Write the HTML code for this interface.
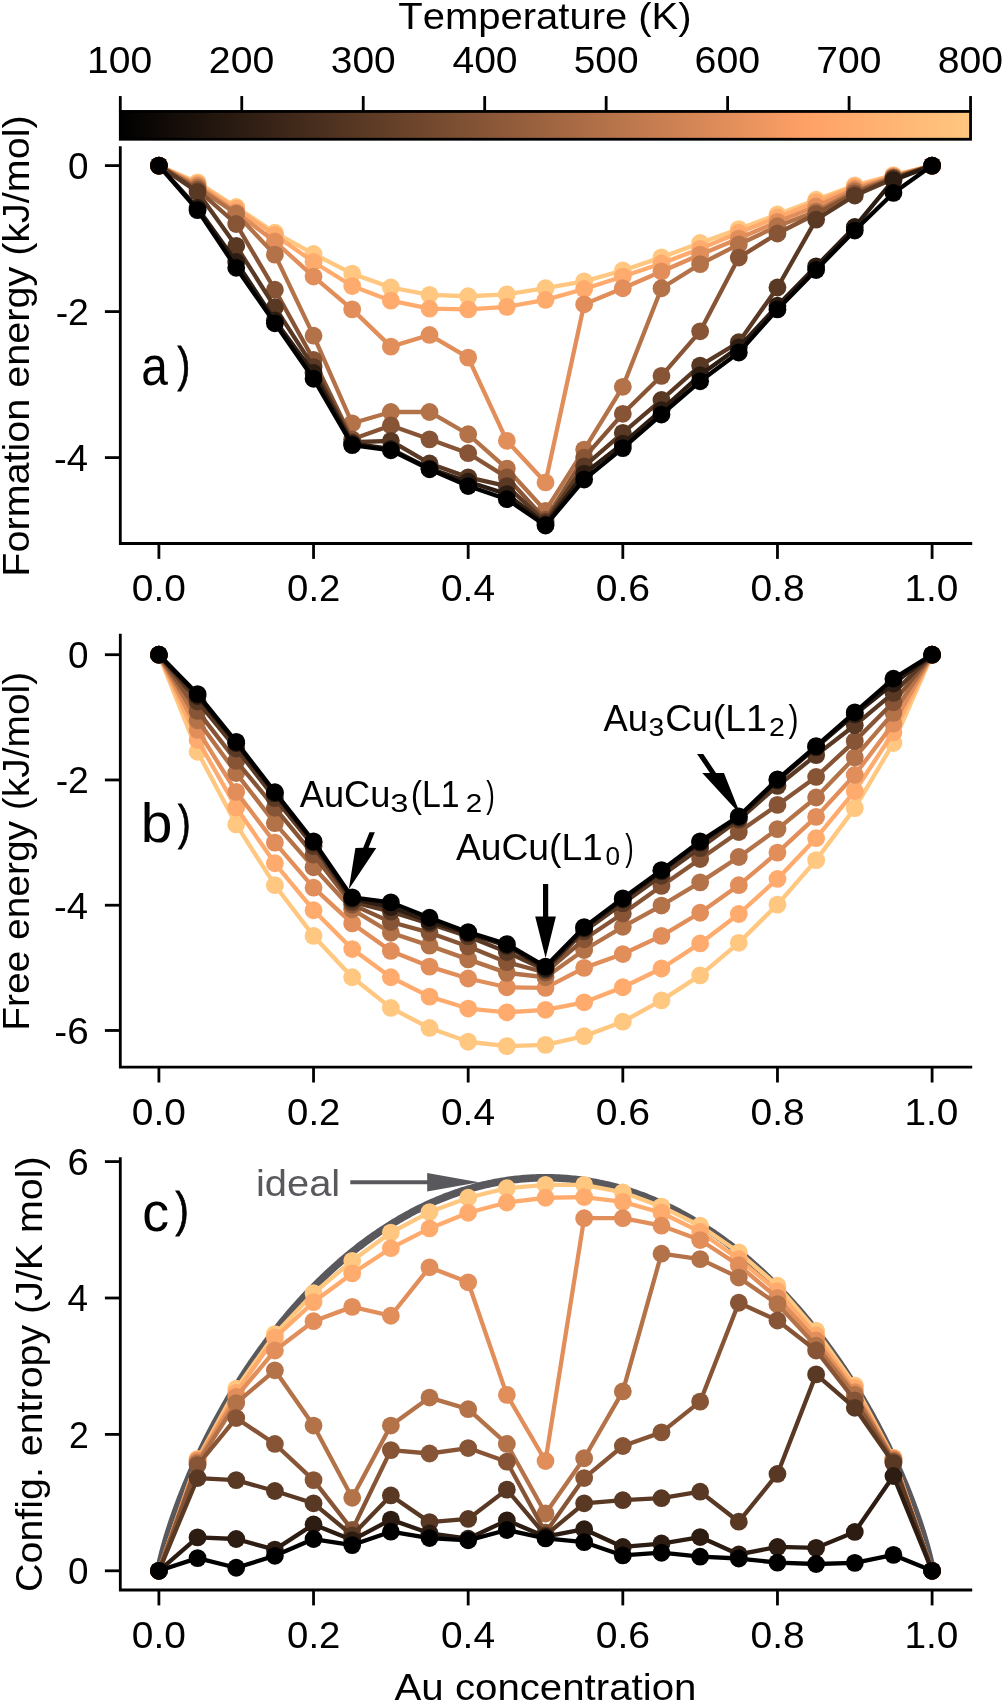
<!DOCTYPE html>
<html><head><meta charset="utf-8"><title>Au-Cu thermodynamics</title>
<style>html,body{margin:0;padding:0;background:#fff;}svg{display:block;will-change:transform;}text{font-family:"Liberation Sans",sans-serif;font-kerning:none;}</style>
</head><body>
<svg width="1004" height="1703" viewBox="0 0 1004 1703" font-family="Liberation Sans, sans-serif">
<defs><linearGradient id="cop" x1="0" y1="0" x2="1" y2="0"><stop offset="0" stop-color="#000000"/><stop offset="0.809524" stop-color="#ffa167"/><stop offset="1" stop-color="#ffc77f"/></linearGradient></defs>
<rect x="0" y="0" width="1004" height="1703" fill="#fff"/>
<rect x="120.3" y="111.45" width="850.25" height="27.80" fill="url(#cop)" stroke="#000" stroke-width="2.8"/>
<line x1="120.30" y1="96.05" x2="120.30" y2="111.45" stroke="#000" stroke-width="2.8"/>
<text transform="translate(87.01,73.30) scale(1.0551,1)" font-size="37.0" fill="#000">100</text>
<line x1="241.76" y1="96.05" x2="241.76" y2="111.45" stroke="#000" stroke-width="2.8"/>
<text transform="translate(208.83,73.30) scale(1.0597,1)" font-size="37.0" fill="#000">200</text>
<line x1="363.23" y1="96.05" x2="363.23" y2="111.45" stroke="#000" stroke-width="2.8"/>
<text transform="translate(330.84,73.30) scale(1.0499,1)" font-size="37.0" fill="#000">300</text>
<line x1="484.69" y1="96.05" x2="484.69" y2="111.45" stroke="#000" stroke-width="2.8"/>
<text transform="translate(452.41,73.30) scale(1.0561,1)" font-size="37.0" fill="#000">400</text>
<line x1="606.16" y1="96.05" x2="606.16" y2="111.45" stroke="#000" stroke-width="2.8"/>
<text transform="translate(573.71,73.30) scale(1.0506,1)" font-size="37.0" fill="#000">500</text>
<line x1="727.62" y1="96.05" x2="727.62" y2="111.45" stroke="#000" stroke-width="2.8"/>
<text transform="translate(694.61,73.30) scale(1.0621,1)" font-size="37.0" fill="#000">600</text>
<line x1="849.09" y1="96.05" x2="849.09" y2="111.45" stroke="#000" stroke-width="2.8"/>
<text transform="translate(816.28,73.30) scale(1.0551,1)" font-size="37.0" fill="#000">700</text>
<line x1="970.55" y1="96.05" x2="970.55" y2="111.45" stroke="#000" stroke-width="2.8"/>
<text transform="translate(937.80,73.30) scale(1.0584,1)" font-size="37.0" fill="#000">800</text>
<text transform="translate(398.30,28.90) scale(1.0809,1)" font-size="37.0" fill="#000">Temperature (K)</text>
<path d="M120.3,147.6 L120.3,543.5 L970.8,543.5" fill="none" stroke="#000" stroke-width="2.8" stroke-linecap="square" stroke-linejoin="miter"/>
<line x1="104.90" y1="165.60" x2="120.30" y2="165.60" stroke="#000" stroke-width="2.8"/>
<text transform="translate(67.92,179.00) scale(0.9972,1)" font-size="37.0" fill="#000">0</text>
<line x1="104.90" y1="311.60" x2="120.30" y2="311.60" stroke="#000" stroke-width="2.8"/>
<text transform="translate(55.65,325.00) scale(1.0099,1)" font-size="37.0" fill="#000">-2</text>
<line x1="104.90" y1="457.60" x2="120.30" y2="457.60" stroke="#000" stroke-width="2.8"/>
<text transform="translate(54.08,471.00) scale(1.0349,1)" font-size="37.0" fill="#000">-4</text>
<line x1="158.90" y1="543.50" x2="158.90" y2="558.90" stroke="#000" stroke-width="2.8"/>
<text transform="translate(131.87,601.10) scale(1.0512,1)" font-size="37.0" fill="#000">0.0</text>
<line x1="313.54" y1="543.50" x2="313.54" y2="558.90" stroke="#000" stroke-width="2.8"/>
<text transform="translate(287.12,601.10) scale(1.0358,1)" font-size="37.0" fill="#000">0.2</text>
<line x1="468.18" y1="543.50" x2="468.18" y2="558.90" stroke="#000" stroke-width="2.8"/>
<text transform="translate(440.97,601.10) scale(1.0508,1)" font-size="37.0" fill="#000">0.4</text>
<line x1="622.82" y1="543.50" x2="622.82" y2="558.90" stroke="#000" stroke-width="2.8"/>
<text transform="translate(595.72,601.10) scale(1.0576,1)" font-size="37.0" fill="#000">0.6</text>
<line x1="777.46" y1="543.50" x2="777.46" y2="558.90" stroke="#000" stroke-width="2.8"/>
<text transform="translate(750.46,601.10) scale(1.0533,1)" font-size="37.0" fill="#000">0.8</text>
<line x1="932.10" y1="543.50" x2="932.10" y2="558.90" stroke="#000" stroke-width="2.8"/>
<text transform="translate(904.40,601.10) scale(1.0492,1)" font-size="37.0" fill="#000">1.0</text>
<text transform="translate(29.00,573.40) rotate(-90) translate(-3.24,0) scale(1.0686,1)" font-size="37.0" fill="#000">Formation energy (kJ/mol)</text>
<path d="M120.3,635.1 L120.3,1067.1 L970.8,1067.1" fill="none" stroke="#000" stroke-width="2.8" stroke-linecap="square" stroke-linejoin="miter"/>
<line x1="104.90" y1="654.70" x2="120.30" y2="654.70" stroke="#000" stroke-width="2.8"/>
<text transform="translate(67.92,668.10) scale(0.9972,1)" font-size="37.0" fill="#000">0</text>
<line x1="104.90" y1="779.96" x2="120.30" y2="779.96" stroke="#000" stroke-width="2.8"/>
<text transform="translate(55.65,793.36) scale(1.0099,1)" font-size="37.0" fill="#000">-2</text>
<line x1="104.90" y1="905.22" x2="120.30" y2="905.22" stroke="#000" stroke-width="2.8"/>
<text transform="translate(54.08,918.62) scale(1.0349,1)" font-size="37.0" fill="#000">-4</text>
<line x1="104.90" y1="1030.48" x2="120.30" y2="1030.48" stroke="#000" stroke-width="2.8"/>
<text transform="translate(54.30,1043.88) scale(1.0457,1)" font-size="37.0" fill="#000">-6</text>
<line x1="158.90" y1="1067.10" x2="158.90" y2="1082.50" stroke="#000" stroke-width="2.8"/>
<text transform="translate(131.87,1124.70) scale(1.0512,1)" font-size="37.0" fill="#000">0.0</text>
<line x1="313.54" y1="1067.10" x2="313.54" y2="1082.50" stroke="#000" stroke-width="2.8"/>
<text transform="translate(287.12,1124.70) scale(1.0358,1)" font-size="37.0" fill="#000">0.2</text>
<line x1="468.18" y1="1067.10" x2="468.18" y2="1082.50" stroke="#000" stroke-width="2.8"/>
<text transform="translate(440.97,1124.70) scale(1.0508,1)" font-size="37.0" fill="#000">0.4</text>
<line x1="622.82" y1="1067.10" x2="622.82" y2="1082.50" stroke="#000" stroke-width="2.8"/>
<text transform="translate(595.72,1124.70) scale(1.0576,1)" font-size="37.0" fill="#000">0.6</text>
<line x1="777.46" y1="1067.10" x2="777.46" y2="1082.50" stroke="#000" stroke-width="2.8"/>
<text transform="translate(750.46,1124.70) scale(1.0533,1)" font-size="37.0" fill="#000">0.8</text>
<line x1="932.10" y1="1067.10" x2="932.10" y2="1082.50" stroke="#000" stroke-width="2.8"/>
<text transform="translate(904.40,1124.70) scale(1.0492,1)" font-size="37.0" fill="#000">1.0</text>
<text transform="translate(29.00,1027.60) rotate(-90) translate(-3.19,0) scale(1.0518,1)" font-size="37.0" fill="#000">Free energy (kJ/mol)</text>
<path d="M120.3,1158.6 L120.3,1590.0 L970.8,1590.0" fill="none" stroke="#000" stroke-width="2.8" stroke-linecap="square" stroke-linejoin="miter"/>
<line x1="104.90" y1="1570.80" x2="120.30" y2="1570.80" stroke="#000" stroke-width="2.8"/>
<text transform="translate(67.92,1584.20) scale(0.9972,1)" font-size="37.0" fill="#000">0</text>
<line x1="104.90" y1="1434.40" x2="120.30" y2="1434.40" stroke="#000" stroke-width="2.8"/>
<text transform="translate(69.01,1447.80) scale(0.9612,1)" font-size="37.0" fill="#000">2</text>
<line x1="104.90" y1="1298.00" x2="120.30" y2="1298.00" stroke="#000" stroke-width="2.8"/>
<text transform="translate(67.56,1311.40) scale(0.9973,1)" font-size="37.0" fill="#000">4</text>
<line x1="104.90" y1="1161.60" x2="120.30" y2="1161.60" stroke="#000" stroke-width="2.8"/>
<text transform="translate(67.44,1175.00) scale(1.0320,1)" font-size="37.0" fill="#000">6</text>
<line x1="158.90" y1="1590.00" x2="158.90" y2="1605.40" stroke="#000" stroke-width="2.8"/>
<text transform="translate(131.87,1647.60) scale(1.0512,1)" font-size="37.0" fill="#000">0.0</text>
<line x1="313.54" y1="1590.00" x2="313.54" y2="1605.40" stroke="#000" stroke-width="2.8"/>
<text transform="translate(287.12,1647.60) scale(1.0358,1)" font-size="37.0" fill="#000">0.2</text>
<line x1="468.18" y1="1590.00" x2="468.18" y2="1605.40" stroke="#000" stroke-width="2.8"/>
<text transform="translate(440.97,1647.60) scale(1.0508,1)" font-size="37.0" fill="#000">0.4</text>
<line x1="622.82" y1="1590.00" x2="622.82" y2="1605.40" stroke="#000" stroke-width="2.8"/>
<text transform="translate(595.72,1647.60) scale(1.0576,1)" font-size="37.0" fill="#000">0.6</text>
<line x1="777.46" y1="1590.00" x2="777.46" y2="1605.40" stroke="#000" stroke-width="2.8"/>
<text transform="translate(750.46,1647.60) scale(1.0533,1)" font-size="37.0" fill="#000">0.8</text>
<line x1="932.10" y1="1590.00" x2="932.10" y2="1605.40" stroke="#000" stroke-width="2.8"/>
<text transform="translate(904.40,1647.60) scale(1.0492,1)" font-size="37.0" fill="#000">1.0</text>
<text transform="translate(41.80,1589.90) rotate(-90) translate(-2.00,0) scale(1.0646,1)" font-size="37.0" fill="#000">Config. entropy (J/K mol)</text>
<text transform="translate(394.52,1700.00) scale(1.0876,1)" font-size="37.0" fill="#000">Au concentration</text>
<text transform="translate(141.27,384.66) scale(0.8552,0.9909)" font-size="56" fill="#000">a</text>
<text transform="translate(177.48,380.77) scale(0.6802,0.8740)" font-size="56" fill="#000" stroke="#000" stroke-width="0.9">)</text>
<text transform="translate(140.63,842.27) scale(1.0165,0.9775)" font-size="56" fill="#000">b</text>
<text transform="translate(177.98,838.79) scale(0.6802,0.8721)" font-size="56" fill="#000" stroke="#000" stroke-width="0.9">)</text>
<text transform="translate(142.22,1230.66) scale(0.9567,0.9876)" font-size="56" fill="#000">c</text>
<text transform="translate(175.47,1226.13) scale(0.7139,0.8683)" font-size="56" fill="#000" stroke="#000" stroke-width="0.9">)</text>
<path d="M158.90,1570.80 L160.83,1560.89 L162.77,1552.95 L164.70,1545.76 L166.63,1539.05 L168.56,1532.70 L170.50,1526.64 L172.43,1520.82 L174.36,1515.21 L176.30,1509.78 L178.23,1504.51 L180.16,1499.39 L182.10,1494.40 L184.03,1489.53 L185.96,1484.78 L187.90,1480.13 L189.83,1475.57 L191.76,1471.11 L193.69,1466.74 L195.63,1462.45 L197.56,1458.24 L199.49,1454.10 L201.43,1450.04 L203.36,1446.04 L205.29,1442.11 L207.23,1438.24 L209.16,1434.43 L211.09,1430.68 L213.02,1426.98 L214.96,1423.34 L216.89,1419.76 L218.82,1416.22 L220.76,1412.73 L222.69,1409.30 L224.62,1405.90 L226.56,1402.56 L228.49,1399.26 L230.42,1396.00 L232.35,1392.78 L234.29,1389.61 L236.22,1386.47 L238.15,1383.38 L240.09,1380.32 L242.02,1377.30 L243.95,1374.32 L245.89,1371.37 L247.82,1368.46 L249.75,1365.59 L251.68,1362.75 L253.62,1359.94 L255.55,1357.17 L257.48,1354.42 L259.42,1351.71 L261.35,1349.03 L263.28,1346.39 L265.22,1343.77 L267.15,1341.18 L269.08,1338.62 L271.01,1336.09 L272.95,1333.59 L274.88,1331.12 L276.81,1328.67 L278.75,1326.26 L280.68,1323.86 L282.61,1321.50 L284.55,1319.16 L286.48,1316.85 L288.41,1314.57 L290.34,1312.31 L292.28,1310.07 L294.21,1307.86 L296.14,1305.67 L298.08,1303.51 L300.01,1301.38 L301.94,1299.26 L303.88,1297.17 L305.81,1295.10 L307.74,1293.06 L309.67,1291.04 L311.61,1289.04 L313.54,1287.06 L315.47,1285.11 L317.41,1283.18 L319.34,1281.27 L321.27,1279.38 L323.21,1277.51 L325.14,1275.67 L327.07,1273.84 L329.00,1272.04 L330.94,1270.25 L332.87,1268.49 L334.80,1266.75 L336.74,1265.02 L338.67,1263.32 L340.60,1261.64 L342.53,1259.97 L344.47,1258.33 L346.40,1256.71 L348.33,1255.10 L350.27,1253.51 L352.20,1251.95 L354.13,1250.40 L356.07,1248.87 L358.00,1247.36 L359.93,1245.87 L361.87,1244.39 L363.80,1242.94 L365.73,1241.50 L367.66,1240.08 L369.60,1238.68 L371.53,1237.30 L373.46,1235.93 L375.40,1234.59 L377.33,1233.26 L379.26,1231.94 L381.19,1230.65 L383.13,1229.37 L385.06,1228.11 L386.99,1226.87 L388.93,1225.64 L390.86,1224.43 L392.79,1223.24 L394.73,1222.06 L396.66,1220.90 L398.59,1219.76 L400.52,1218.63 L402.46,1217.53 L404.39,1216.43 L406.32,1215.36 L408.26,1214.30 L410.19,1213.25 L412.12,1212.22 L414.06,1211.21 L415.99,1210.22 L417.92,1209.24 L419.86,1208.27 L421.79,1207.32 L423.72,1206.39 L425.65,1205.47 L427.59,1204.57 L429.52,1203.69 L431.45,1202.82 L433.39,1201.96 L435.32,1201.13 L437.25,1200.30 L439.19,1199.49 L441.12,1198.70 L443.05,1197.92 L444.98,1197.16 L446.92,1196.42 L448.85,1195.68 L450.78,1194.97 L452.72,1194.27 L454.65,1193.58 L456.58,1192.91 L458.51,1192.25 L460.45,1191.61 L462.38,1190.98 L464.31,1190.37 L466.25,1189.77 L468.18,1189.19 L470.11,1188.63 L472.05,1188.07 L473.98,1187.53 L475.91,1187.01 L477.85,1186.50 L479.78,1186.01 L481.71,1185.53 L483.64,1185.06 L485.58,1184.61 L487.51,1184.18 L489.44,1183.76 L491.38,1183.35 L493.31,1182.96 L495.24,1182.58 L497.18,1182.22 L499.11,1181.87 L501.04,1181.53 L502.97,1181.21 L504.91,1180.91 L506.84,1180.62 L508.77,1180.34 L510.71,1180.07 L512.64,1179.83 L514.57,1179.59 L516.50,1179.37 L518.44,1179.17 L520.37,1178.97 L522.30,1178.80 L524.24,1178.63 L526.17,1178.48 L528.10,1178.35 L530.04,1178.23 L531.97,1178.12 L533.90,1178.03 L535.84,1177.95 L537.77,1177.89 L539.70,1177.84 L541.63,1177.80 L543.57,1177.78 L545.50,1177.78 L547.43,1177.78 L549.37,1177.80 L551.30,1177.84 L553.23,1177.89 L555.16,1177.95 L557.10,1178.03 L559.03,1178.12 L560.96,1178.23 L562.90,1178.35 L564.83,1178.48 L566.76,1178.63 L568.70,1178.80 L570.63,1178.97 L572.56,1179.17 L574.50,1179.37 L576.43,1179.59 L578.36,1179.83 L580.29,1180.07 L582.23,1180.34 L584.16,1180.62 L586.09,1180.91 L588.03,1181.21 L589.96,1181.53 L591.89,1181.87 L593.83,1182.22 L595.76,1182.58 L597.69,1182.96 L599.62,1183.35 L601.56,1183.76 L603.49,1184.18 L605.42,1184.61 L607.36,1185.06 L609.29,1185.53 L611.22,1186.01 L613.16,1186.50 L615.09,1187.01 L617.02,1187.53 L618.95,1188.07 L620.89,1188.63 L622.82,1189.19 L624.75,1189.77 L626.69,1190.37 L628.62,1190.98 L630.55,1191.61 L632.49,1192.25 L634.42,1192.91 L636.35,1193.58 L638.28,1194.27 L640.22,1194.97 L642.15,1195.68 L644.08,1196.42 L646.02,1197.16 L647.95,1197.92 L649.88,1198.70 L651.82,1199.49 L653.75,1200.30 L655.68,1201.13 L657.61,1201.96 L659.55,1202.82 L661.48,1203.69 L663.41,1204.57 L665.35,1205.47 L667.28,1206.39 L669.21,1207.32 L671.14,1208.27 L673.08,1209.24 L675.01,1210.22 L676.94,1211.21 L678.88,1212.22 L680.81,1213.25 L682.74,1214.30 L684.68,1215.36 L686.61,1216.43 L688.54,1217.53 L690.48,1218.63 L692.41,1219.76 L694.34,1220.90 L696.27,1222.06 L698.21,1223.24 L700.14,1224.43 L702.07,1225.64 L704.01,1226.87 L705.94,1228.11 L707.87,1229.37 L709.81,1230.65 L711.74,1231.94 L713.67,1233.26 L715.60,1234.59 L717.54,1235.93 L719.47,1237.30 L721.40,1238.68 L723.34,1240.08 L725.27,1241.50 L727.20,1242.94 L729.13,1244.39 L731.07,1245.87 L733.00,1247.36 L734.93,1248.87 L736.87,1250.40 L738.80,1251.95 L740.73,1253.51 L742.67,1255.10 L744.60,1256.71 L746.53,1258.33 L748.47,1259.97 L750.40,1261.64 L752.33,1263.32 L754.26,1265.02 L756.20,1266.75 L758.13,1268.49 L760.06,1270.25 L762.00,1272.04 L763.93,1273.84 L765.86,1275.67 L767.79,1277.51 L769.73,1279.38 L771.66,1281.27 L773.59,1283.18 L775.53,1285.11 L777.46,1287.06 L779.39,1289.04 L781.33,1291.04 L783.26,1293.06 L785.19,1295.10 L787.12,1297.17 L789.06,1299.26 L790.99,1301.38 L792.92,1303.51 L794.86,1305.67 L796.79,1307.86 L798.72,1310.07 L800.66,1312.31 L802.59,1314.57 L804.52,1316.85 L806.46,1319.16 L808.39,1321.50 L810.32,1323.86 L812.25,1326.26 L814.19,1328.67 L816.12,1331.12 L818.05,1333.59 L819.99,1336.09 L821.92,1338.62 L823.85,1341.18 L825.79,1343.77 L827.72,1346.39 L829.65,1349.03 L831.58,1351.71 L833.52,1354.42 L835.45,1357.17 L837.38,1359.94 L839.32,1362.75 L841.25,1365.59 L843.18,1368.46 L845.12,1371.37 L847.05,1374.32 L848.98,1377.30 L850.91,1380.32 L852.85,1383.38 L854.78,1386.47 L856.71,1389.61 L858.65,1392.78 L860.58,1396.00 L862.51,1399.26 L864.45,1402.56 L866.38,1405.90 L868.31,1409.30 L870.24,1412.73 L872.18,1416.22 L874.11,1419.76 L876.04,1423.34 L877.98,1426.98 L879.91,1430.68 L881.84,1434.43 L883.77,1438.24 L885.71,1442.11 L887.64,1446.04 L889.57,1450.04 L891.51,1454.10 L893.44,1458.24 L895.37,1462.45 L897.31,1466.74 L899.24,1471.11 L901.17,1475.57 L903.11,1480.13 L905.04,1484.78 L906.97,1489.53 L908.90,1494.40 L910.84,1499.39 L912.77,1504.51 L914.70,1509.78 L916.64,1515.21 L918.57,1520.82 L920.50,1526.64 L922.44,1532.70 L924.37,1539.05 L926.30,1545.76 L928.23,1552.95 L930.17,1560.89 L932.10,1570.80" fill="none" stroke="#58585d" stroke-width="7.6"/>
<path d="M158.90,165.60 L197.56,182.39 L236.22,206.99 L274.88,232.76 L313.54,253.93 L352.20,273.64 L390.86,287.51 L429.52,294.81 L468.18,296.27 L506.84,294.37 L545.50,288.24 L584.16,281.31 L622.82,270.50 L661.48,257.36 L700.14,242.98 L738.80,229.11 L777.46,214.51 L816.12,199.69 L854.78,185.31 L893.44,175.09 L932.10,165.60" fill="none" stroke="#ffc77f" stroke-width="4.3" stroke-linejoin="round" stroke-linecap="butt"/>
<g fill="#ffc77f"><circle cx="158.90" cy="165.60" r="8.9"/><circle cx="197.56" cy="182.39" r="8.9"/><circle cx="236.22" cy="206.99" r="8.9"/><circle cx="274.88" cy="232.76" r="8.9"/><circle cx="313.54" cy="253.93" r="8.9"/><circle cx="352.20" cy="273.64" r="8.9"/><circle cx="390.86" cy="287.51" r="8.9"/><circle cx="429.52" cy="294.81" r="8.9"/><circle cx="468.18" cy="296.27" r="8.9"/><circle cx="506.84" cy="294.37" r="8.9"/><circle cx="545.50" cy="288.24" r="8.9"/><circle cx="584.16" cy="281.31" r="8.9"/><circle cx="622.82" cy="270.50" r="8.9"/><circle cx="661.48" cy="257.36" r="8.9"/><circle cx="700.14" cy="242.98" r="8.9"/><circle cx="738.80" cy="229.11" r="8.9"/><circle cx="777.46" cy="214.51" r="8.9"/><circle cx="816.12" cy="199.69" r="8.9"/><circle cx="854.78" cy="185.31" r="8.9"/><circle cx="893.44" cy="175.09" r="8.9"/><circle cx="932.10" cy="165.60" r="8.9"/></g>
<path d="M158.90,165.60 L197.56,183.85 L236.22,208.67 L274.88,234.95 L313.54,261.96 L352.20,286.05 L390.86,300.65 L429.52,308.68 L468.18,309.41 L506.84,306.86 L545.50,299.92 L584.16,288.97 L622.82,276.56 L661.48,263.42 L700.14,248.82 L738.80,232.76 L777.46,217.43 L816.12,202.10 L854.78,186.77 L893.44,175.82 L932.10,165.60" fill="none" stroke="#ffab6d" stroke-width="4.3" stroke-linejoin="round" stroke-linecap="butt"/>
<g fill="#ffab6d"><circle cx="158.90" cy="165.60" r="8.9"/><circle cx="197.56" cy="183.85" r="8.9"/><circle cx="236.22" cy="208.67" r="8.9"/><circle cx="274.88" cy="234.95" r="8.9"/><circle cx="313.54" cy="261.96" r="8.9"/><circle cx="352.20" cy="286.05" r="8.9"/><circle cx="390.86" cy="300.65" r="8.9"/><circle cx="429.52" cy="308.68" r="8.9"/><circle cx="468.18" cy="309.41" r="8.9"/><circle cx="506.84" cy="306.86" r="8.9"/><circle cx="545.50" cy="299.92" r="8.9"/><circle cx="584.16" cy="288.97" r="8.9"/><circle cx="622.82" cy="276.56" r="8.9"/><circle cx="661.48" cy="263.42" r="8.9"/><circle cx="700.14" cy="248.82" r="8.9"/><circle cx="738.80" cy="232.76" r="8.9"/><circle cx="777.46" cy="217.43" r="8.9"/><circle cx="816.12" cy="202.10" r="8.9"/><circle cx="854.78" cy="186.77" r="8.9"/><circle cx="893.44" cy="175.82" r="8.9"/><circle cx="932.10" cy="165.60" r="8.9"/></g>
<path d="M158.90,165.60 L197.56,185.31 L236.22,212.32 L274.88,241.52 L313.54,276.56 L352.20,309.41 L390.86,346.64 L429.52,334.96 L468.18,357.59 L506.84,440.81 L545.50,482.42 L584.16,304.30 L622.82,288.24 L661.48,271.45 L700.14,254.66 L738.80,238.60 L777.46,221.81 L816.12,206.48 L854.78,188.96 L893.44,176.55 L932.10,165.60" fill="none" stroke="#e18e5b" stroke-width="4.3" stroke-linejoin="round" stroke-linecap="butt"/>
<g fill="#e18e5b"><circle cx="158.90" cy="165.60" r="8.9"/><circle cx="197.56" cy="185.31" r="8.9"/><circle cx="236.22" cy="212.32" r="8.9"/><circle cx="274.88" cy="241.52" r="8.9"/><circle cx="313.54" cy="276.56" r="8.9"/><circle cx="352.20" cy="309.41" r="8.9"/><circle cx="390.86" cy="346.64" r="8.9"/><circle cx="429.52" cy="334.96" r="8.9"/><circle cx="468.18" cy="357.59" r="8.9"/><circle cx="506.84" cy="440.81" r="8.9"/><circle cx="545.50" cy="482.42" r="8.9"/><circle cx="584.16" cy="304.30" r="8.9"/><circle cx="622.82" cy="288.24" r="8.9"/><circle cx="661.48" cy="271.45" r="8.9"/><circle cx="700.14" cy="254.66" r="8.9"/><circle cx="738.80" cy="238.60" r="8.9"/><circle cx="777.46" cy="221.81" r="8.9"/><circle cx="816.12" cy="206.48" r="8.9"/><circle cx="854.78" cy="188.96" r="8.9"/><circle cx="893.44" cy="176.55" r="8.9"/><circle cx="932.10" cy="165.60" r="8.9"/></g>
<path d="M158.90,165.60 L197.56,187.50 L236.22,213.78 L274.88,254.66 L313.54,335.69 L352.20,423.29 L390.86,411.98 L429.52,411.98 L468.18,434.24 L506.84,468.55 L545.50,510.89 L584.16,449.57 L622.82,386.79 L661.48,288.24 L700.14,264.15 L738.80,244.44 L777.46,226.19 L816.12,211.59 L854.78,191.15 L893.44,177.28 L932.10,165.60" fill="none" stroke="#b47249" stroke-width="4.3" stroke-linejoin="round" stroke-linecap="butt"/>
<g fill="#b47249"><circle cx="158.90" cy="165.60" r="8.9"/><circle cx="197.56" cy="187.50" r="8.9"/><circle cx="236.22" cy="213.78" r="8.9"/><circle cx="274.88" cy="254.66" r="8.9"/><circle cx="313.54" cy="335.69" r="8.9"/><circle cx="352.20" cy="423.29" r="8.9"/><circle cx="390.86" cy="411.98" r="8.9"/><circle cx="429.52" cy="411.98" r="8.9"/><circle cx="468.18" cy="434.24" r="8.9"/><circle cx="506.84" cy="468.55" r="8.9"/><circle cx="545.50" cy="510.89" r="8.9"/><circle cx="584.16" cy="449.57" r="8.9"/><circle cx="622.82" cy="386.79" r="8.9"/><circle cx="661.48" cy="288.24" r="8.9"/><circle cx="700.14" cy="264.15" r="8.9"/><circle cx="738.80" cy="244.44" r="8.9"/><circle cx="777.46" cy="226.19" r="8.9"/><circle cx="816.12" cy="211.59" r="8.9"/><circle cx="854.78" cy="191.15" r="8.9"/><circle cx="893.44" cy="177.28" r="8.9"/><circle cx="932.10" cy="165.60" r="8.9"/></g>
<path d="M158.90,165.60 L197.56,189.69 L236.22,224.00 L274.88,289.70 L313.54,359.78 L352.20,439.35 L390.86,425.48 L429.52,439.35 L468.18,453.22 L506.84,477.31 L545.50,519.65 L584.16,457.60 L622.82,413.80 L661.48,375.84 L700.14,331.31 L738.80,257.58 L777.46,233.49 L816.12,213.78 L854.78,193.34 L893.44,178.01 L932.10,165.60" fill="none" stroke="#875536" stroke-width="4.3" stroke-linejoin="round" stroke-linecap="butt"/>
<g fill="#875536"><circle cx="158.90" cy="165.60" r="8.9"/><circle cx="197.56" cy="189.69" r="8.9"/><circle cx="236.22" cy="224.00" r="8.9"/><circle cx="274.88" cy="289.70" r="8.9"/><circle cx="313.54" cy="359.78" r="8.9"/><circle cx="352.20" cy="439.35" r="8.9"/><circle cx="390.86" cy="425.48" r="8.9"/><circle cx="429.52" cy="439.35" r="8.9"/><circle cx="468.18" cy="453.22" r="8.9"/><circle cx="506.84" cy="477.31" r="8.9"/><circle cx="545.50" cy="519.65" r="8.9"/><circle cx="584.16" cy="457.60" r="8.9"/><circle cx="622.82" cy="413.80" r="8.9"/><circle cx="661.48" cy="375.84" r="8.9"/><circle cx="700.14" cy="331.31" r="8.9"/><circle cx="738.80" cy="257.58" r="8.9"/><circle cx="777.46" cy="233.49" r="8.9"/><circle cx="816.12" cy="213.78" r="8.9"/><circle cx="854.78" cy="193.34" r="8.9"/><circle cx="893.44" cy="178.01" r="8.9"/><circle cx="932.10" cy="165.60" r="8.9"/></g>
<path d="M158.90,165.60 L197.56,191.88 L236.22,245.90 L274.88,307.22 L313.54,367.08 L352.20,442.27 L390.86,440.81 L429.52,463.44 L468.18,477.31 L506.84,486.07 L545.50,521.84 L584.16,466.36 L622.82,432.78 L661.48,399.93 L700.14,365.62 L738.80,342.26 L777.46,287.51 L816.12,219.62 L854.78,195.53 L893.44,178.74 L932.10,165.60" fill="none" stroke="#5a3924" stroke-width="4.3" stroke-linejoin="round" stroke-linecap="butt"/>
<g fill="#5a3924"><circle cx="158.90" cy="165.60" r="8.9"/><circle cx="197.56" cy="191.88" r="8.9"/><circle cx="236.22" cy="245.90" r="8.9"/><circle cx="274.88" cy="307.22" r="8.9"/><circle cx="313.54" cy="367.08" r="8.9"/><circle cx="352.20" cy="442.27" r="8.9"/><circle cx="390.86" cy="440.81" r="8.9"/><circle cx="429.52" cy="463.44" r="8.9"/><circle cx="468.18" cy="477.31" r="8.9"/><circle cx="506.84" cy="486.07" r="8.9"/><circle cx="545.50" cy="521.84" r="8.9"/><circle cx="584.16" cy="466.36" r="8.9"/><circle cx="622.82" cy="432.78" r="8.9"/><circle cx="661.48" cy="399.93" r="8.9"/><circle cx="700.14" cy="365.62" r="8.9"/><circle cx="738.80" cy="342.26" r="8.9"/><circle cx="777.46" cy="287.51" r="8.9"/><circle cx="816.12" cy="219.62" r="8.9"/><circle cx="854.78" cy="195.53" r="8.9"/><circle cx="893.44" cy="178.74" r="8.9"/><circle cx="932.10" cy="165.60" r="8.9"/></g>
<path d="M158.90,165.60 L197.56,207.94 L236.22,261.96 L274.88,320.36 L313.54,372.92 L352.20,443.73 L390.86,448.84 L429.52,468.55 L468.18,481.69 L506.84,494.10 L545.50,524.03 L584.16,473.66 L622.82,443.73 L661.48,410.15 L700.14,375.11 L738.80,347.37 L777.46,305.76 L816.12,266.34 L854.78,226.92 L893.44,180.20 L932.10,165.60" fill="none" stroke="#2c1c12" stroke-width="4.3" stroke-linejoin="round" stroke-linecap="butt"/>
<g fill="#2c1c12"><circle cx="158.90" cy="165.60" r="8.9"/><circle cx="197.56" cy="207.94" r="8.9"/><circle cx="236.22" cy="261.96" r="8.9"/><circle cx="274.88" cy="320.36" r="8.9"/><circle cx="313.54" cy="372.92" r="8.9"/><circle cx="352.20" cy="443.73" r="8.9"/><circle cx="390.86" cy="448.84" r="8.9"/><circle cx="429.52" cy="468.55" r="8.9"/><circle cx="468.18" cy="481.69" r="8.9"/><circle cx="506.84" cy="494.10" r="8.9"/><circle cx="545.50" cy="524.03" r="8.9"/><circle cx="584.16" cy="473.66" r="8.9"/><circle cx="622.82" cy="443.73" r="8.9"/><circle cx="661.48" cy="410.15" r="8.9"/><circle cx="700.14" cy="375.11" r="8.9"/><circle cx="738.80" cy="347.37" r="8.9"/><circle cx="777.46" cy="305.76" r="8.9"/><circle cx="816.12" cy="266.34" r="8.9"/><circle cx="854.78" cy="226.92" r="8.9"/><circle cx="893.44" cy="180.20" r="8.9"/><circle cx="932.10" cy="165.60" r="8.9"/></g>
<path d="M158.90,165.60 L197.56,210.13 L236.22,267.80 L274.88,323.28 L313.54,378.76 L352.20,445.19 L390.86,450.30 L429.52,469.28 L468.18,486.07 L506.84,499.21 L545.50,525.49 L584.16,479.50 L622.82,448.11 L661.48,414.53 L700.14,381.31 L738.80,352.48 L777.46,309.41 L816.12,269.99 L854.78,230.57 L893.44,192.97 L932.10,165.60" fill="none" stroke="#000000" stroke-width="4.3" stroke-linejoin="round" stroke-linecap="butt"/>
<g fill="#000000"><circle cx="158.90" cy="165.60" r="8.9"/><circle cx="197.56" cy="210.13" r="8.9"/><circle cx="236.22" cy="267.80" r="8.9"/><circle cx="274.88" cy="323.28" r="8.9"/><circle cx="313.54" cy="378.76" r="8.9"/><circle cx="352.20" cy="445.19" r="8.9"/><circle cx="390.86" cy="450.30" r="8.9"/><circle cx="429.52" cy="469.28" r="8.9"/><circle cx="468.18" cy="486.07" r="8.9"/><circle cx="506.84" cy="499.21" r="8.9"/><circle cx="545.50" cy="525.49" r="8.9"/><circle cx="584.16" cy="479.50" r="8.9"/><circle cx="622.82" cy="448.11" r="8.9"/><circle cx="661.48" cy="414.53" r="8.9"/><circle cx="700.14" cy="381.31" r="8.9"/><circle cx="738.80" cy="352.48" r="8.9"/><circle cx="777.46" cy="309.41" r="8.9"/><circle cx="816.12" cy="269.99" r="8.9"/><circle cx="854.78" cy="230.57" r="8.9"/><circle cx="893.44" cy="192.97" r="8.9"/><circle cx="932.10" cy="165.60" r="8.9"/></g>
<path d="M158.90,654.70 L197.56,751.78 L236.22,824.43 L274.88,885.18 L313.54,935.91 L352.20,977.24 L390.86,1007.93 L429.52,1027.97 L468.18,1041.75 L506.84,1046.14 L545.50,1044.88 L584.16,1036.12 L622.82,1021.71 L661.48,1000.42 L700.14,975.37 L738.80,942.80 L777.46,904.59 L816.12,860.13 L854.78,808.14 L893.44,743.01 L932.10,654.70" fill="none" stroke="#ffc77f" stroke-width="4.3" stroke-linejoin="round" stroke-linecap="butt"/>
<g fill="#ffc77f"><circle cx="158.90" cy="654.70" r="8.9"/><circle cx="197.56" cy="751.78" r="8.9"/><circle cx="236.22" cy="824.43" r="8.9"/><circle cx="274.88" cy="885.18" r="8.9"/><circle cx="313.54" cy="935.91" r="8.9"/><circle cx="352.20" cy="977.24" r="8.9"/><circle cx="390.86" cy="1007.93" r="8.9"/><circle cx="429.52" cy="1027.97" r="8.9"/><circle cx="468.18" cy="1041.75" r="8.9"/><circle cx="506.84" cy="1046.14" r="8.9"/><circle cx="545.50" cy="1044.88" r="8.9"/><circle cx="584.16" cy="1036.12" r="8.9"/><circle cx="622.82" cy="1021.71" r="8.9"/><circle cx="661.48" cy="1000.42" r="8.9"/><circle cx="700.14" cy="975.37" r="8.9"/><circle cx="738.80" cy="942.80" r="8.9"/><circle cx="777.46" cy="904.59" r="8.9"/><circle cx="816.12" cy="860.13" r="8.9"/><circle cx="854.78" cy="808.14" r="8.9"/><circle cx="893.44" cy="743.01" r="8.9"/><circle cx="932.10" cy="654.70" r="8.9"/></g>
<path d="M158.90,654.70 L197.56,739.88 L236.22,807.52 L274.88,863.26 L313.54,910.23 L352.20,949.06 L390.86,977.24 L429.52,996.66 L468.18,1008.56 L506.84,1012.32 L545.50,1009.81 L584.16,1002.30 L622.82,987.27 L661.48,968.48 L700.14,943.42 L738.80,913.99 L777.46,878.92 L816.12,838.21 L854.78,791.23 L893.44,732.36 L932.10,654.70" fill="none" stroke="#ffab6d" stroke-width="4.3" stroke-linejoin="round" stroke-linecap="butt"/>
<g fill="#ffab6d"><circle cx="158.90" cy="654.70" r="8.9"/><circle cx="197.56" cy="739.88" r="8.9"/><circle cx="236.22" cy="807.52" r="8.9"/><circle cx="274.88" cy="863.26" r="8.9"/><circle cx="313.54" cy="910.23" r="8.9"/><circle cx="352.20" cy="949.06" r="8.9"/><circle cx="390.86" cy="977.24" r="8.9"/><circle cx="429.52" cy="996.66" r="8.9"/><circle cx="468.18" cy="1008.56" r="8.9"/><circle cx="506.84" cy="1012.32" r="8.9"/><circle cx="545.50" cy="1009.81" r="8.9"/><circle cx="584.16" cy="1002.30" r="8.9"/><circle cx="622.82" cy="987.27" r="8.9"/><circle cx="661.48" cy="968.48" r="8.9"/><circle cx="700.14" cy="943.42" r="8.9"/><circle cx="738.80" cy="913.99" r="8.9"/><circle cx="777.46" cy="878.92" r="8.9"/><circle cx="816.12" cy="838.21" r="8.9"/><circle cx="854.78" cy="791.23" r="8.9"/><circle cx="893.44" cy="732.36" r="8.9"/><circle cx="932.10" cy="654.70" r="8.9"/></g>
<path d="M158.90,654.70 L197.56,729.86 L236.22,791.86 L274.88,842.59 L313.54,887.68 L352.20,923.38 L390.86,950.94 L429.52,966.60 L468.18,978.50 L506.84,987.27 L545.50,987.89 L584.16,967.85 L622.82,954.07 L661.48,935.91 L700.14,912.74 L738.80,885.18 L777.46,852.61 L816.12,816.91 L854.78,774.95 L893.44,723.59 L932.10,654.70" fill="none" stroke="#e18e5b" stroke-width="4.3" stroke-linejoin="round" stroke-linecap="butt"/>
<g fill="#e18e5b"><circle cx="158.90" cy="654.70" r="8.9"/><circle cx="197.56" cy="729.86" r="8.9"/><circle cx="236.22" cy="791.86" r="8.9"/><circle cx="274.88" cy="842.59" r="8.9"/><circle cx="313.54" cy="887.68" r="8.9"/><circle cx="352.20" cy="923.38" r="8.9"/><circle cx="390.86" cy="950.94" r="8.9"/><circle cx="429.52" cy="966.60" r="8.9"/><circle cx="468.18" cy="978.50" r="8.9"/><circle cx="506.84" cy="987.27" r="8.9"/><circle cx="545.50" cy="987.89" r="8.9"/><circle cx="584.16" cy="967.85" r="8.9"/><circle cx="622.82" cy="954.07" r="8.9"/><circle cx="661.48" cy="935.91" r="8.9"/><circle cx="700.14" cy="912.74" r="8.9"/><circle cx="738.80" cy="885.18" r="8.9"/><circle cx="777.46" cy="852.61" r="8.9"/><circle cx="816.12" cy="816.91" r="8.9"/><circle cx="854.78" cy="774.95" r="8.9"/><circle cx="893.44" cy="723.59" r="8.9"/><circle cx="932.10" cy="654.70" r="8.9"/></g>
<path d="M158.90,654.70 L197.56,720.27 L236.22,773.07 L274.88,823.17 L313.54,867.33 L352.20,909.29 L390.86,932.78 L429.52,945.62 L468.18,959.39 L506.84,972.86 L545.50,977.24 L584.16,950.00 L622.82,926.83 L661.48,905.53 L700.14,882.36 L738.80,856.99 L777.46,829.12 L816.12,797.50 L854.78,757.41 L893.44,712.95 L932.10,654.70" fill="none" stroke="#b47249" stroke-width="4.3" stroke-linejoin="round" stroke-linecap="butt"/>
<g fill="#b47249"><circle cx="158.90" cy="654.70" r="8.9"/><circle cx="197.56" cy="720.27" r="8.9"/><circle cx="236.22" cy="773.07" r="8.9"/><circle cx="274.88" cy="823.17" r="8.9"/><circle cx="313.54" cy="867.33" r="8.9"/><circle cx="352.20" cy="909.29" r="8.9"/><circle cx="390.86" cy="932.78" r="8.9"/><circle cx="429.52" cy="945.62" r="8.9"/><circle cx="468.18" cy="959.39" r="8.9"/><circle cx="506.84" cy="972.86" r="8.9"/><circle cx="545.50" cy="977.24" r="8.9"/><circle cx="584.16" cy="950.00" r="8.9"/><circle cx="622.82" cy="926.83" r="8.9"/><circle cx="661.48" cy="905.53" r="8.9"/><circle cx="700.14" cy="882.36" r="8.9"/><circle cx="738.80" cy="856.99" r="8.9"/><circle cx="777.46" cy="829.12" r="8.9"/><circle cx="816.12" cy="797.50" r="8.9"/><circle cx="854.78" cy="757.41" r="8.9"/><circle cx="893.44" cy="712.95" r="8.9"/><circle cx="932.10" cy="654.70" r="8.9"/></g>
<path d="M158.90,654.70 L197.56,710.88 L236.22,760.92 L274.88,807.77 L313.54,854.61 L352.20,904.59 L390.86,922.00 L429.52,932.65 L468.18,946.56 L506.84,962.21 L545.50,972.48 L584.16,939.29 L622.82,913.49 L661.48,885.93 L700.14,859.00 L738.80,832.07 L777.46,804.89 L816.12,776.95 L854.78,741.13 L893.44,702.30 L932.10,654.70" fill="none" stroke="#875536" stroke-width="4.3" stroke-linejoin="round" stroke-linecap="butt"/>
<g fill="#875536"><circle cx="158.90" cy="654.70" r="8.9"/><circle cx="197.56" cy="710.88" r="8.9"/><circle cx="236.22" cy="760.92" r="8.9"/><circle cx="274.88" cy="807.77" r="8.9"/><circle cx="313.54" cy="854.61" r="8.9"/><circle cx="352.20" cy="904.59" r="8.9"/><circle cx="390.86" cy="922.00" r="8.9"/><circle cx="429.52" cy="932.65" r="8.9"/><circle cx="468.18" cy="946.56" r="8.9"/><circle cx="506.84" cy="962.21" r="8.9"/><circle cx="545.50" cy="972.48" r="8.9"/><circle cx="584.16" cy="939.29" r="8.9"/><circle cx="622.82" cy="913.49" r="8.9"/><circle cx="661.48" cy="885.93" r="8.9"/><circle cx="700.14" cy="859.00" r="8.9"/><circle cx="738.80" cy="832.07" r="8.9"/><circle cx="777.46" cy="804.89" r="8.9"/><circle cx="816.12" cy="776.95" r="8.9"/><circle cx="854.78" cy="741.13" r="8.9"/><circle cx="893.44" cy="702.30" r="8.9"/><circle cx="932.10" cy="654.70" r="8.9"/></g>
<path d="M158.90,654.70 L197.56,701.48 L236.22,748.58 L274.88,798.19 L313.54,846.16 L352.20,901.84 L390.86,911.61 L429.52,923.63 L468.18,936.41 L506.84,952.00 L545.50,970.10 L584.16,931.34 L622.82,903.40 L661.48,875.78 L700.14,848.10 L738.80,819.79 L777.46,785.97 L816.12,755.16 L854.78,725.28 L893.44,692.90 L932.10,654.70" fill="none" stroke="#5a3924" stroke-width="4.3" stroke-linejoin="round" stroke-linecap="butt"/>
<g fill="#5a3924"><circle cx="158.90" cy="654.70" r="8.9"/><circle cx="197.56" cy="701.48" r="8.9"/><circle cx="236.22" cy="748.58" r="8.9"/><circle cx="274.88" cy="798.19" r="8.9"/><circle cx="313.54" cy="846.16" r="8.9"/><circle cx="352.20" cy="901.84" r="8.9"/><circle cx="390.86" cy="911.61" r="8.9"/><circle cx="429.52" cy="923.63" r="8.9"/><circle cx="468.18" cy="936.41" r="8.9"/><circle cx="506.84" cy="952.00" r="8.9"/><circle cx="545.50" cy="970.10" r="8.9"/><circle cx="584.16" cy="931.34" r="8.9"/><circle cx="622.82" cy="903.40" r="8.9"/><circle cx="661.48" cy="875.78" r="8.9"/><circle cx="700.14" cy="848.10" r="8.9"/><circle cx="738.80" cy="819.79" r="8.9"/><circle cx="777.46" cy="785.97" r="8.9"/><circle cx="816.12" cy="755.16" r="8.9"/><circle cx="854.78" cy="725.28" r="8.9"/><circle cx="893.44" cy="692.90" r="8.9"/><circle cx="932.10" cy="654.70" r="8.9"/></g>
<path d="M158.90,654.70 L197.56,696.04 L236.22,743.20 L274.88,793.43 L313.54,842.59 L352.20,898.96 L390.86,907.10 L429.52,921.50 L468.18,933.40 L506.84,945.80 L545.50,968.48 L584.16,928.39 L622.82,899.58 L661.48,871.40 L700.14,842.59 L738.80,817.54 L777.46,780.59 L816.12,747.39 L854.78,714.45 L893.44,683.51 L932.10,654.70" fill="none" stroke="#2c1c12" stroke-width="4.3" stroke-linejoin="round" stroke-linecap="butt"/>
<g fill="#2c1c12"><circle cx="158.90" cy="654.70" r="8.9"/><circle cx="197.56" cy="696.04" r="8.9"/><circle cx="236.22" cy="743.20" r="8.9"/><circle cx="274.88" cy="793.43" r="8.9"/><circle cx="313.54" cy="842.59" r="8.9"/><circle cx="352.20" cy="898.96" r="8.9"/><circle cx="390.86" cy="907.10" r="8.9"/><circle cx="429.52" cy="921.50" r="8.9"/><circle cx="468.18" cy="933.40" r="8.9"/><circle cx="506.84" cy="945.80" r="8.9"/><circle cx="545.50" cy="968.48" r="8.9"/><circle cx="584.16" cy="928.39" r="8.9"/><circle cx="622.82" cy="899.58" r="8.9"/><circle cx="661.48" cy="871.40" r="8.9"/><circle cx="700.14" cy="842.59" r="8.9"/><circle cx="738.80" cy="817.54" r="8.9"/><circle cx="777.46" cy="780.59" r="8.9"/><circle cx="816.12" cy="747.39" r="8.9"/><circle cx="854.78" cy="714.45" r="8.9"/><circle cx="893.44" cy="683.51" r="8.9"/><circle cx="932.10" cy="654.70" r="8.9"/></g>
<path d="M158.90,654.70 L197.56,694.03 L236.22,741.88 L274.88,792.17 L313.54,841.34 L352.20,897.39 L390.86,902.40 L429.52,917.75 L468.18,932.15 L506.84,944.05 L545.50,966.60 L584.16,927.14 L622.82,898.33 L661.48,870.15 L700.14,841.34 L738.80,816.29 L777.46,779.33 L816.12,746.14 L854.78,712.32 L893.44,678.69 L932.10,654.70" fill="none" stroke="#000000" stroke-width="4.3" stroke-linejoin="round" stroke-linecap="butt"/>
<g fill="#000000"><circle cx="158.90" cy="654.70" r="8.9"/><circle cx="197.56" cy="694.03" r="8.9"/><circle cx="236.22" cy="741.88" r="8.9"/><circle cx="274.88" cy="792.17" r="8.9"/><circle cx="313.54" cy="841.34" r="8.9"/><circle cx="352.20" cy="897.39" r="8.9"/><circle cx="390.86" cy="902.40" r="8.9"/><circle cx="429.52" cy="917.75" r="8.9"/><circle cx="468.18" cy="932.15" r="8.9"/><circle cx="506.84" cy="944.05" r="8.9"/><circle cx="545.50" cy="966.60" r="8.9"/><circle cx="584.16" cy="927.14" r="8.9"/><circle cx="622.82" cy="898.33" r="8.9"/><circle cx="661.48" cy="870.15" r="8.9"/><circle cx="700.14" cy="841.34" r="8.9"/><circle cx="738.80" cy="816.29" r="8.9"/><circle cx="777.46" cy="779.33" r="8.9"/><circle cx="816.12" cy="746.14" r="8.9"/><circle cx="854.78" cy="712.32" r="8.9"/><circle cx="893.44" cy="678.69" r="8.9"/><circle cx="932.10" cy="654.70" r="8.9"/></g>
<path d="M158.90,1570.80 L197.56,1458.95 L236.22,1388.71 L274.88,1334.15 L313.54,1293.23 L352.20,1260.83 L390.86,1232.53 L429.52,1212.07 L468.18,1197.75 L506.84,1188.20 L545.50,1184.79 L584.16,1184.79 L622.82,1192.29 L661.48,1206.61 L700.14,1225.71 L738.80,1252.31 L777.46,1285.72 L816.12,1330.74 L854.78,1385.30 L893.44,1457.59 L932.10,1570.80" fill="none" stroke="#ffc77f" stroke-width="4.3" stroke-linejoin="round" stroke-linecap="butt"/>
<g fill="#ffc77f"><circle cx="158.90" cy="1570.80" r="8.9"/><circle cx="197.56" cy="1458.95" r="8.9"/><circle cx="236.22" cy="1388.71" r="8.9"/><circle cx="274.88" cy="1334.15" r="8.9"/><circle cx="313.54" cy="1293.23" r="8.9"/><circle cx="352.20" cy="1260.83" r="8.9"/><circle cx="390.86" cy="1232.53" r="8.9"/><circle cx="429.52" cy="1212.07" r="8.9"/><circle cx="468.18" cy="1197.75" r="8.9"/><circle cx="506.84" cy="1188.20" r="8.9"/><circle cx="545.50" cy="1184.79" r="8.9"/><circle cx="584.16" cy="1184.79" r="8.9"/><circle cx="622.82" cy="1192.29" r="8.9"/><circle cx="661.48" cy="1206.61" r="8.9"/><circle cx="700.14" cy="1225.71" r="8.9"/><circle cx="738.80" cy="1252.31" r="8.9"/><circle cx="777.46" cy="1285.72" r="8.9"/><circle cx="816.12" cy="1330.74" r="8.9"/><circle cx="854.78" cy="1385.30" r="8.9"/><circle cx="893.44" cy="1457.59" r="8.9"/><circle cx="932.10" cy="1570.80" r="8.9"/></g>
<path d="M158.90,1570.80 L197.56,1459.63 L236.22,1392.80 L274.88,1337.56 L313.54,1302.09 L352.20,1273.45 L390.86,1248.21 L429.52,1228.44 L468.18,1212.75 L506.84,1202.52 L545.50,1197.75 L584.16,1197.06 L622.82,1201.84 L661.48,1212.75 L700.14,1231.85 L738.80,1259.13 L777.46,1291.18 L816.12,1335.51 L854.78,1388.02 L893.44,1458.27 L932.10,1570.80" fill="none" stroke="#ffab6d" stroke-width="4.3" stroke-linejoin="round" stroke-linecap="butt"/>
<g fill="#ffab6d"><circle cx="158.90" cy="1570.80" r="8.9"/><circle cx="197.56" cy="1459.63" r="8.9"/><circle cx="236.22" cy="1392.80" r="8.9"/><circle cx="274.88" cy="1337.56" r="8.9"/><circle cx="313.54" cy="1302.09" r="8.9"/><circle cx="352.20" cy="1273.45" r="8.9"/><circle cx="390.86" cy="1248.21" r="8.9"/><circle cx="429.52" cy="1228.44" r="8.9"/><circle cx="468.18" cy="1212.75" r="8.9"/><circle cx="506.84" cy="1202.52" r="8.9"/><circle cx="545.50" cy="1197.75" r="8.9"/><circle cx="584.16" cy="1197.06" r="8.9"/><circle cx="622.82" cy="1201.84" r="8.9"/><circle cx="661.48" cy="1212.75" r="8.9"/><circle cx="700.14" cy="1231.85" r="8.9"/><circle cx="738.80" cy="1259.13" r="8.9"/><circle cx="777.46" cy="1291.18" r="8.9"/><circle cx="816.12" cy="1335.51" r="8.9"/><circle cx="854.78" cy="1388.02" r="8.9"/><circle cx="893.44" cy="1458.27" r="8.9"/><circle cx="932.10" cy="1570.80" r="8.9"/></g>
<path d="M158.90,1570.80 L197.56,1461.00 L236.22,1396.89 L274.88,1350.51 L313.54,1321.19 L352.20,1306.87 L390.86,1315.73 L429.52,1267.31 L468.18,1282.31 L506.84,1394.84 L545.50,1461.00 L584.16,1218.21 L622.82,1218.21 L661.48,1225.71 L700.14,1240.03 L738.80,1265.26 L777.46,1298.00 L816.12,1340.28 L854.78,1392.12 L893.44,1458.95 L932.10,1570.80" fill="none" stroke="#e18e5b" stroke-width="4.3" stroke-linejoin="round" stroke-linecap="butt"/>
<g fill="#e18e5b"><circle cx="158.90" cy="1570.80" r="8.9"/><circle cx="197.56" cy="1461.00" r="8.9"/><circle cx="236.22" cy="1396.89" r="8.9"/><circle cx="274.88" cy="1350.51" r="8.9"/><circle cx="313.54" cy="1321.19" r="8.9"/><circle cx="352.20" cy="1306.87" r="8.9"/><circle cx="390.86" cy="1315.73" r="8.9"/><circle cx="429.52" cy="1267.31" r="8.9"/><circle cx="468.18" cy="1282.31" r="8.9"/><circle cx="506.84" cy="1394.84" r="8.9"/><circle cx="545.50" cy="1461.00" r="8.9"/><circle cx="584.16" cy="1218.21" r="8.9"/><circle cx="622.82" cy="1218.21" r="8.9"/><circle cx="661.48" cy="1225.71" r="8.9"/><circle cx="700.14" cy="1240.03" r="8.9"/><circle cx="738.80" cy="1265.26" r="8.9"/><circle cx="777.46" cy="1298.00" r="8.9"/><circle cx="816.12" cy="1340.28" r="8.9"/><circle cx="854.78" cy="1392.12" r="8.9"/><circle cx="893.44" cy="1458.95" r="8.9"/><circle cx="932.10" cy="1570.80" r="8.9"/></g>
<path d="M158.90,1570.80 L197.56,1463.04 L236.22,1403.03 L274.88,1370.29 L313.54,1425.53 L352.20,1497.83 L390.86,1425.53 L429.52,1397.57 L468.18,1409.17 L506.84,1443.95 L545.50,1513.51 L584.16,1458.27 L622.82,1391.43 L661.48,1253.67 L700.14,1259.13 L738.80,1277.54 L777.46,1304.14 L816.12,1345.74 L854.78,1394.84 L893.44,1460.32 L932.10,1570.80" fill="none" stroke="#b47249" stroke-width="4.3" stroke-linejoin="round" stroke-linecap="butt"/>
<g fill="#b47249"><circle cx="158.90" cy="1570.80" r="8.9"/><circle cx="197.56" cy="1463.04" r="8.9"/><circle cx="236.22" cy="1403.03" r="8.9"/><circle cx="274.88" cy="1370.29" r="8.9"/><circle cx="313.54" cy="1425.53" r="8.9"/><circle cx="352.20" cy="1497.83" r="8.9"/><circle cx="390.86" cy="1425.53" r="8.9"/><circle cx="429.52" cy="1397.57" r="8.9"/><circle cx="468.18" cy="1409.17" r="8.9"/><circle cx="506.84" cy="1443.95" r="8.9"/><circle cx="545.50" cy="1513.51" r="8.9"/><circle cx="584.16" cy="1458.27" r="8.9"/><circle cx="622.82" cy="1391.43" r="8.9"/><circle cx="661.48" cy="1253.67" r="8.9"/><circle cx="700.14" cy="1259.13" r="8.9"/><circle cx="738.80" cy="1277.54" r="8.9"/><circle cx="777.46" cy="1304.14" r="8.9"/><circle cx="816.12" cy="1345.74" r="8.9"/><circle cx="854.78" cy="1394.84" r="8.9"/><circle cx="893.44" cy="1460.32" r="8.9"/><circle cx="932.10" cy="1570.80" r="8.9"/></g>
<path d="M158.90,1570.80 L197.56,1465.09 L236.22,1418.03 L274.88,1443.95 L313.54,1480.09 L352.20,1529.88 L390.86,1450.09 L429.52,1453.50 L468.18,1448.04 L506.84,1461.68 L545.50,1532.61 L584.16,1478.05 L622.82,1445.99 L661.48,1432.35 L700.14,1401.66 L738.80,1302.77 L777.46,1320.51 L816.12,1350.51 L854.78,1400.30 L893.44,1461.68 L932.10,1570.80" fill="none" stroke="#875536" stroke-width="4.3" stroke-linejoin="round" stroke-linecap="butt"/>
<g fill="#875536"><circle cx="158.90" cy="1570.80" r="8.9"/><circle cx="197.56" cy="1465.09" r="8.9"/><circle cx="236.22" cy="1418.03" r="8.9"/><circle cx="274.88" cy="1443.95" r="8.9"/><circle cx="313.54" cy="1480.09" r="8.9"/><circle cx="352.20" cy="1529.88" r="8.9"/><circle cx="390.86" cy="1450.09" r="8.9"/><circle cx="429.52" cy="1453.50" r="8.9"/><circle cx="468.18" cy="1448.04" r="8.9"/><circle cx="506.84" cy="1461.68" r="8.9"/><circle cx="545.50" cy="1532.61" r="8.9"/><circle cx="584.16" cy="1478.05" r="8.9"/><circle cx="622.82" cy="1445.99" r="8.9"/><circle cx="661.48" cy="1432.35" r="8.9"/><circle cx="700.14" cy="1401.66" r="8.9"/><circle cx="738.80" cy="1302.77" r="8.9"/><circle cx="777.46" cy="1320.51" r="8.9"/><circle cx="816.12" cy="1350.51" r="8.9"/><circle cx="854.78" cy="1400.30" r="8.9"/><circle cx="893.44" cy="1461.68" r="8.9"/><circle cx="932.10" cy="1570.80" r="8.9"/></g>
<path d="M158.90,1570.80 L197.56,1478.05 L236.22,1480.09 L274.88,1491.01 L313.54,1503.28 L352.20,1535.34 L390.86,1495.44 L429.52,1522.11 L468.18,1518.97 L506.84,1489.64 L545.50,1535.34 L584.16,1503.28 L622.82,1500.21 L661.48,1498.17 L700.14,1491.69 L738.80,1521.70 L777.46,1473.96 L816.12,1374.38 L854.78,1407.80 L893.44,1463.04 L932.10,1570.80" fill="none" stroke="#5a3924" stroke-width="4.3" stroke-linejoin="round" stroke-linecap="butt"/>
<g fill="#5a3924"><circle cx="158.90" cy="1570.80" r="8.9"/><circle cx="197.56" cy="1478.05" r="8.9"/><circle cx="236.22" cy="1480.09" r="8.9"/><circle cx="274.88" cy="1491.01" r="8.9"/><circle cx="313.54" cy="1503.28" r="8.9"/><circle cx="352.20" cy="1535.34" r="8.9"/><circle cx="390.86" cy="1495.44" r="8.9"/><circle cx="429.52" cy="1522.11" r="8.9"/><circle cx="468.18" cy="1518.97" r="8.9"/><circle cx="506.84" cy="1489.64" r="8.9"/><circle cx="545.50" cy="1535.34" r="8.9"/><circle cx="584.16" cy="1503.28" r="8.9"/><circle cx="622.82" cy="1500.21" r="8.9"/><circle cx="661.48" cy="1498.17" r="8.9"/><circle cx="700.14" cy="1491.69" r="8.9"/><circle cx="738.80" cy="1521.70" r="8.9"/><circle cx="777.46" cy="1473.96" r="8.9"/><circle cx="816.12" cy="1374.38" r="8.9"/><circle cx="854.78" cy="1407.80" r="8.9"/><circle cx="893.44" cy="1463.04" r="8.9"/><circle cx="932.10" cy="1570.80" r="8.9"/></g>
<path d="M158.90,1570.80 L197.56,1537.38 L236.22,1539.02 L274.88,1549.66 L313.54,1524.42 L352.20,1540.11 L390.86,1519.65 L429.52,1533.29 L468.18,1538.75 L506.84,1520.33 L545.50,1536.70 L584.16,1529.20 L622.82,1546.93 L661.48,1543.52 L700.14,1537.04 L738.80,1554.43 L777.46,1546.93 L816.12,1547.88 L854.78,1531.93 L893.44,1476.00 L932.10,1570.80" fill="none" stroke="#2c1c12" stroke-width="4.3" stroke-linejoin="round" stroke-linecap="butt"/>
<g fill="#2c1c12"><circle cx="158.90" cy="1570.80" r="8.9"/><circle cx="197.56" cy="1537.38" r="8.9"/><circle cx="236.22" cy="1539.02" r="8.9"/><circle cx="274.88" cy="1549.66" r="8.9"/><circle cx="313.54" cy="1524.42" r="8.9"/><circle cx="352.20" cy="1540.11" r="8.9"/><circle cx="390.86" cy="1519.65" r="8.9"/><circle cx="429.52" cy="1533.29" r="8.9"/><circle cx="468.18" cy="1538.75" r="8.9"/><circle cx="506.84" cy="1520.33" r="8.9"/><circle cx="545.50" cy="1536.70" r="8.9"/><circle cx="584.16" cy="1529.20" r="8.9"/><circle cx="622.82" cy="1546.93" r="8.9"/><circle cx="661.48" cy="1543.52" r="8.9"/><circle cx="700.14" cy="1537.04" r="8.9"/><circle cx="738.80" cy="1554.43" r="8.9"/><circle cx="777.46" cy="1546.93" r="8.9"/><circle cx="816.12" cy="1547.88" r="8.9"/><circle cx="854.78" cy="1531.93" r="8.9"/><circle cx="893.44" cy="1476.00" r="8.9"/><circle cx="932.10" cy="1570.80" r="8.9"/></g>
<path d="M158.90,1570.80 L197.56,1558.11 L236.22,1567.73 L274.88,1555.80 L313.54,1539.02 L352.20,1545.09 L390.86,1531.72 L429.52,1538.06 L468.18,1540.31 L506.84,1530.02 L545.50,1538.40 L584.16,1542.16 L622.82,1555.45 L661.48,1552.73 L700.14,1556.68 L738.80,1558.52 L777.46,1562.62 L816.12,1563.98 L854.78,1562.89 L893.44,1554.91 L932.10,1570.80" fill="none" stroke="#000000" stroke-width="4.3" stroke-linejoin="round" stroke-linecap="butt"/>
<g fill="#000000"><circle cx="158.90" cy="1570.80" r="8.9"/><circle cx="197.56" cy="1558.11" r="8.9"/><circle cx="236.22" cy="1567.73" r="8.9"/><circle cx="274.88" cy="1555.80" r="8.9"/><circle cx="313.54" cy="1539.02" r="8.9"/><circle cx="352.20" cy="1545.09" r="8.9"/><circle cx="390.86" cy="1531.72" r="8.9"/><circle cx="429.52" cy="1538.06" r="8.9"/><circle cx="468.18" cy="1540.31" r="8.9"/><circle cx="506.84" cy="1530.02" r="8.9"/><circle cx="545.50" cy="1538.40" r="8.9"/><circle cx="584.16" cy="1542.16" r="8.9"/><circle cx="622.82" cy="1555.45" r="8.9"/><circle cx="661.48" cy="1552.73" r="8.9"/><circle cx="700.14" cy="1556.68" r="8.9"/><circle cx="738.80" cy="1558.52" r="8.9"/><circle cx="777.46" cy="1562.62" r="8.9"/><circle cx="816.12" cy="1563.98" r="8.9"/><circle cx="854.78" cy="1562.89" r="8.9"/><circle cx="893.44" cy="1554.91" r="8.9"/><circle cx="932.10" cy="1570.80" r="8.9"/></g>
<text transform="translate(299.83,807.00) scale(0.9786,1)" font-size="37.0" fill="#000">AuCu</text>
<text transform="translate(390.15,811.50) scale(1.2574,1)" font-size="26.0" fill="#000">3</text>
<text transform="translate(410.70,807.00) scale(0.9134,1)" font-size="37.0" fill="#000">(L1</text>
<text transform="translate(465.81,811.50) scale(1.1397,1)" font-size="26.0" fill="#000">2</text>
<text transform="translate(486.15,807.00) scale(0.6932,1)" font-size="37.0" fill="#000">)</text>
<polygon points="369.45,832.25 374.83,832.25 368.55,847.8 376.3,848.1 348.8,889.3 355.4,848.1 363.2,847.8" fill="#000"/>
<text transform="translate(456.03,860.40) scale(1.0052,1)" font-size="37.0" fill="#000">AuCu(L1</text>
<text transform="translate(605.48,864.90) scale(1.0057,1)" font-size="26.0" fill="#000">0</text>
<text transform="translate(625.35,860.40) scale(0.6830,1)" font-size="37.0" fill="#000">)</text>
<polygon points="543.0,884.1 548.2,884.1 548.2,916.6 555.9,916.6 545.6,958.0 535.2,916.6 543.0,916.6" fill="#000"/>
<text transform="translate(603.43,731.40) scale(0.9830,1)" font-size="37.0" fill="#000">Au</text>
<text transform="translate(648.52,735.90) scale(1.0870,1)" font-size="26.0" fill="#000">3</text>
<text transform="translate(665.21,731.40) scale(1.0073,1)" font-size="37.0" fill="#000">Cu(L1</text>
<text transform="translate(769.06,735.90) scale(1.0975,1)" font-size="26.0" fill="#000">2</text>
<text transform="translate(788.52,731.40) scale(0.8155,1)" font-size="37.0" fill="#000">)</text>
<polygon points="697.05,754.1 703.3,754.1 716.0,772.9 723.95,772.9 740.5,814.5 702.25,773.1 710.0,772.9" fill="#000"/>
<text transform="translate(255.93,1195.70) scale(1.0789,1)" font-size="37.0" fill="#58585d">ideal</text>
<line x1="350.3" y1="1182.3" x2="430" y2="1182.3" stroke="#58585d" stroke-width="4"/>
<polygon points="427.2,1173.1 479,1182.3 427.2,1191.5" fill="#58585d"/>
</svg>
</body></html>
